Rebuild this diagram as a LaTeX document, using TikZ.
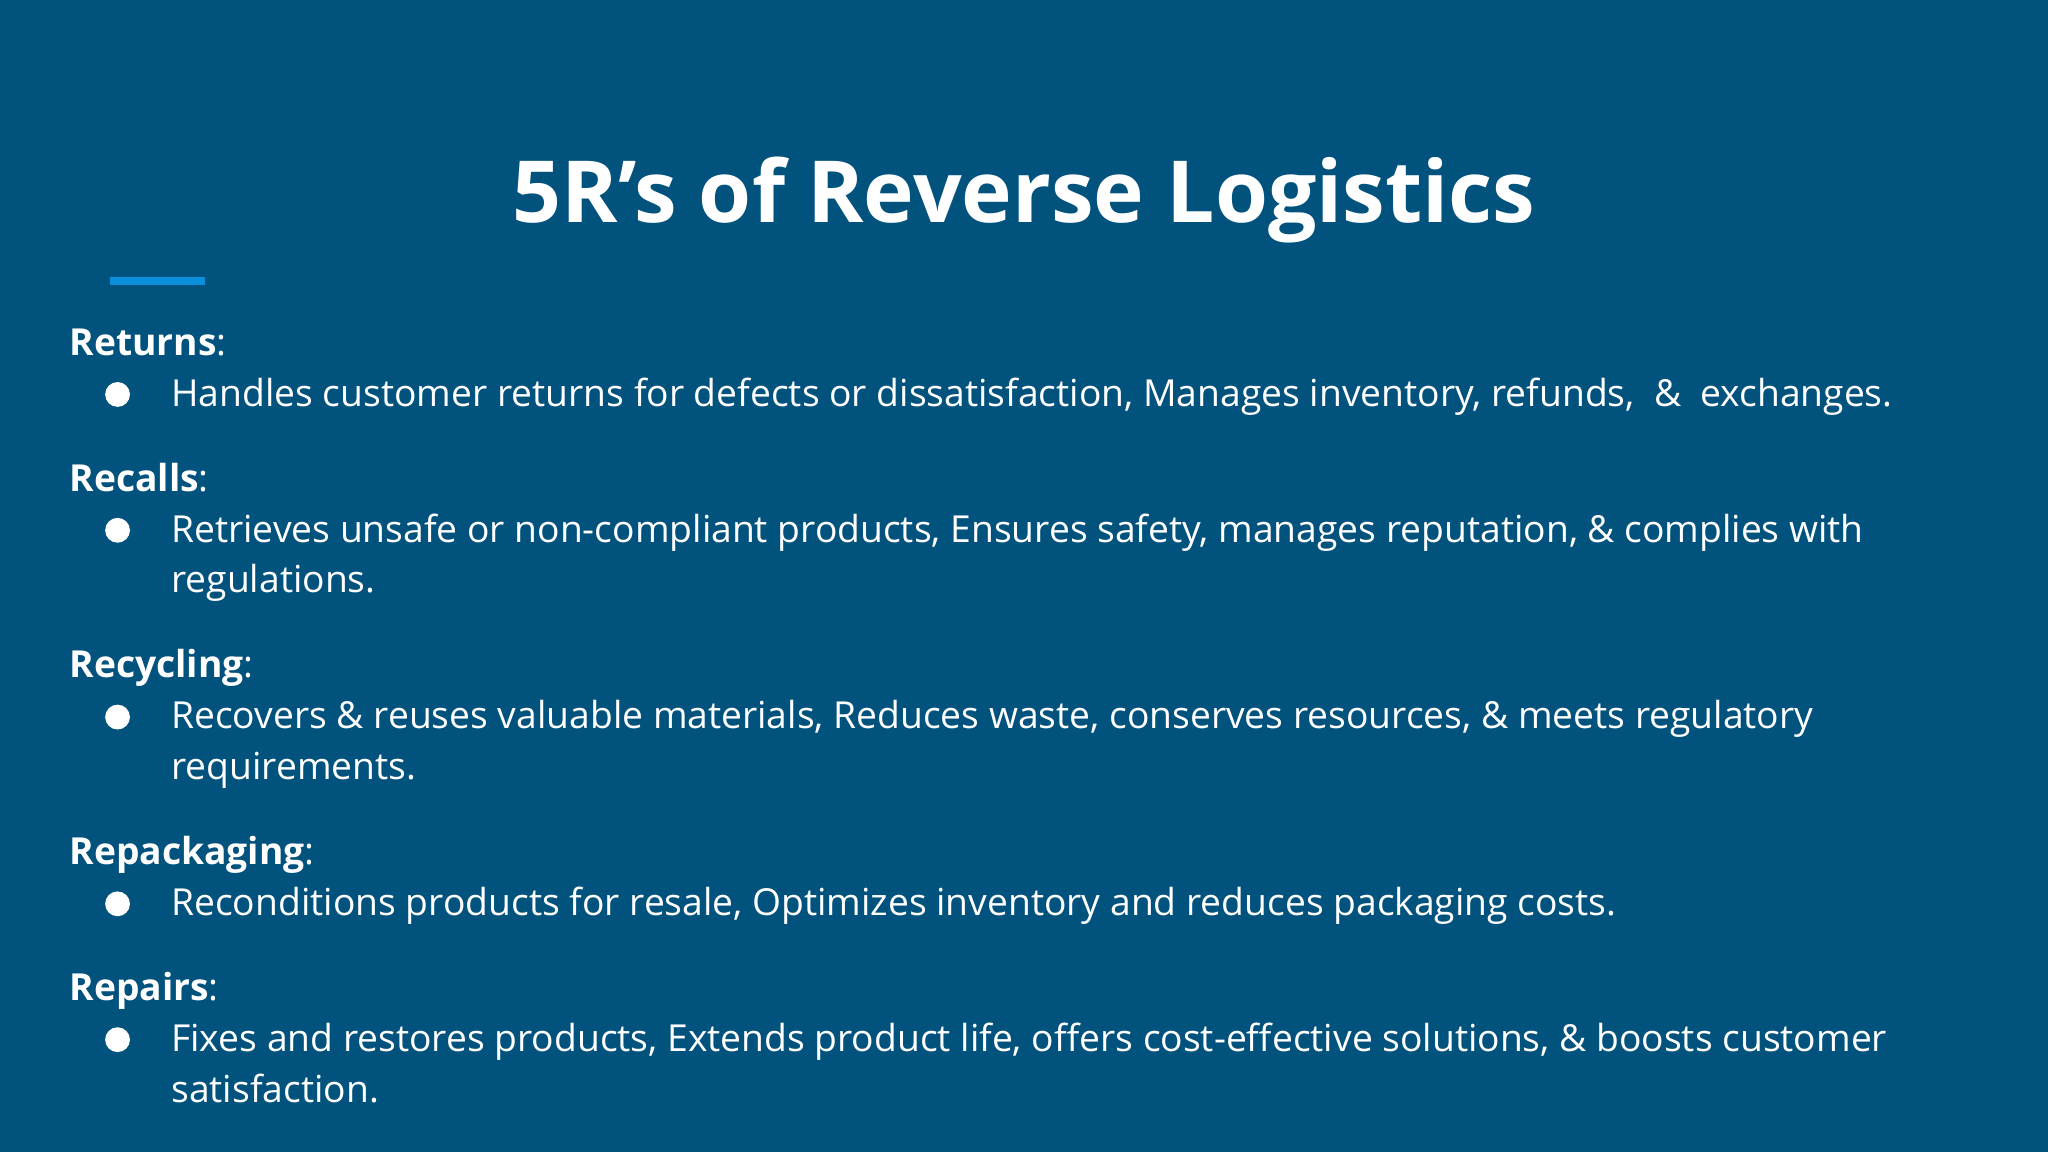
\documentclass[tikz,border=0pt]{standalone}
\usepackage{fontspec}
\setmainfont{Open Sans}
\definecolor{bg}{HTML}{01527D}
\definecolor{accent}{HTML}{0A8FDD}
\begin{document}
\begin{tikzpicture}[x=1pt,y=-1pt,
  txt/.style={anchor=base west,inner sep=0pt,text=white,font=\fontsize{28.5}{34}\selectfont},
  dot/.style={circle,fill=white,inner sep=0pt,minimum size=19pt}]
\fill[bg] (0,0) rectangle (1568,882);
\useasboundingbox (0,0) rectangle (1568,882);
\node[anchor=base,inner sep=0pt,text=white,font=\fontsize{65.6}{80}\selectfont\bfseries] (title) at (784,170) {5R’s of Reverse Logistics};
\fill[accent] (84,212) rectangle (157,218);
\node[txt] (h1) at (53,272) {\textbf{Returns}:};
\node[dot] (d1) at (90,302) {};
\node[txt] (t1) at (131,311) {Handles customer returns for defects or dissatisfaction, Manages inventory, refunds,~ \&~ exchanges.};
\node[txt] (h2) at (53,376) {\textbf{Recalls}:};
\node[dot] (d2) at (90,406) {};
\node[txt] (t2) at (131,415) {Retrieves unsafe or non-compliant products, Ensures safety, manages reputation, \& complies with};
\node[txt] (t2b) at (131,454) {regulations.};
\node[txt] (h3) at (53,519) {\textbf{Recycling}:};
\node[dot] (d3) at (90,549) {};
\node[txt] (t3) at (131,558) {Recovers \& reuses valuable materials, Reduces waste, conserves resources, \& meets regulatory};
\node[txt] (t3b) at (131,597) {requirements.};
\node[txt] (h4) at (53,662) {\textbf{Repackaging}:};
\node[dot] (d4) at (90,692) {};
\node[txt] (t4) at (131,701) {Reconditions products for resale, Optimizes inventory and reduces packaging costs.};
\node[txt] (h5) at (53,766) {\textbf{Repairs}:};
\node[dot] (d5) at (90,796) {};
\node[txt] (t5) at (131,805) {Fixes and restores products, Extends product life, offers cost-effective solutions, \& boosts customer};
\node[txt] (t5b) at (131,844) {satisfaction.};
\end{tikzpicture}
\end{document}
